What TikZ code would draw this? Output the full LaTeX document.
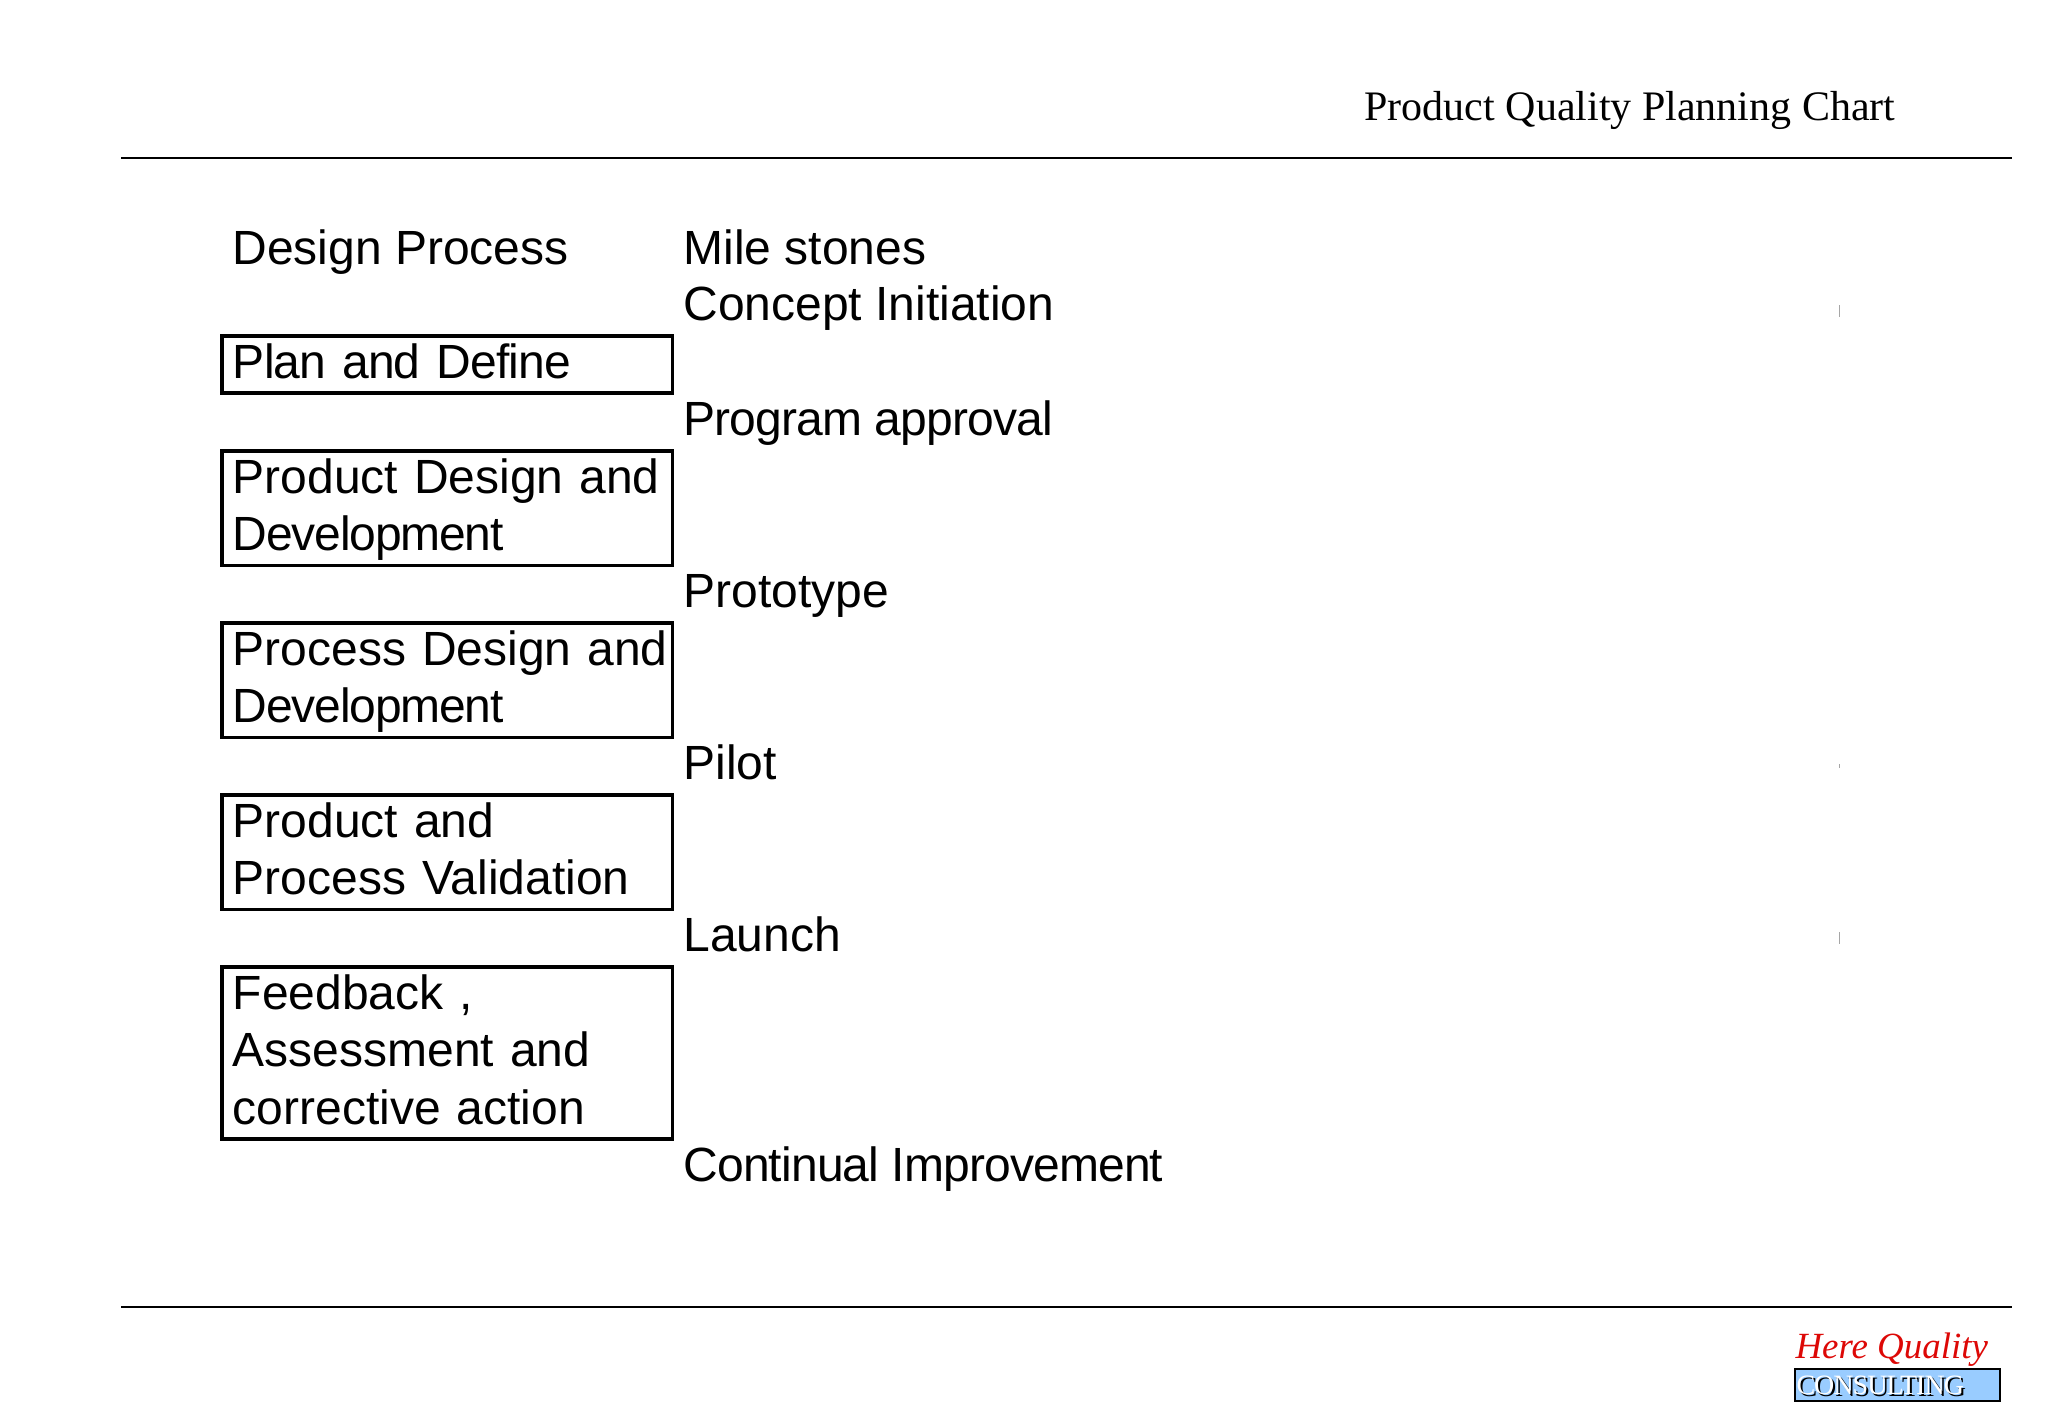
\documentclass[tikz,border=0pt]{standalone}
\usepackage{fontspec}
\setmainfont{Liberation Sans}
\newfontfamily\serifpart{Liberation Serif}
\newfontfamily\tightsans[LetterSpace=-1.8]{Liberation Sans}
\newfontfamily\tightersans[LetterSpace=-2.5]{Liberation Sans}
\newfontfamily\logopart[LetterSpace=-3.5]{Liberation Serif}
\definecolor{herered}{RGB}{221,8,6}
\definecolor{consultblue}{RGB}{153,204,255}
\newcommand{\stagestart}{\hspace*{8.2pt}\rule[-11pt]{0pt}{43pt}}
\tikzset{every picture/.style={line width=0.75pt}}
\tikzset{
  biglabel/.style={anchor=base west,inner sep=0pt,font=\fontsize{36}{43}\selectfont},
  stagebox/.style={draw,line width=2.8pt,anchor=north west,text width=338pt,align=left,
    inner sep=0pt,font=\fontsize{36}{43}\selectfont},
  rulerline/.style={line width=2.2pt},
  faintmark/.style={draw=black!35,line width=0.6pt}
}
\begin{document}
\begin{tikzpicture}[x=0.75pt,y=0.75pt,yscale=-1,xscale=1]
\useasboundingbox (0,0) rectangle (2048,1418);

%Straight Lines
\coordinate (topleft) at (121,158);
\coordinate (topright) at (2012,158);
\coordinate (botleft) at (121,1307);
\coordinate (botright) at (2012,1307);
\draw [rulerline] (topleft) -- (topright);
\draw [rulerline] (botleft) -- (botright);

% Text Node
\node (charttitle) [anchor=base west,inner sep=0pt,font=\serifpart\fontsize{31.5}{36}\selectfont] at (1364,120) {Product Quality Planning Chart};

% Text Node
\node (designhead) [biglabel] at (232,264) {Design Process};
% Text Node
\node (milehead) [biglabel] at (683,264) {Mile stones};

% Boxes
\node (planbox) [stagebox] at (220,334) {\stagestart{\tightsans Plan and Define}};
\node (productbox) [stagebox] at (220,449) {\stagestart Product Design and\\\stagestart{\tightersans Development}};
\node (processbox) [stagebox] at (220,621) {\stagestart Process Design and\\\stagestart{\tightersans Development}};
\node (validbox) [stagebox] at (220,793) {\stagestart Product and\\\stagestart Process Validation};
\node (feedbackbox) [stagebox] at (220,965) {\stagestart Feedback ,\\\stagestart Assessment and\\\stagestart corrective action};

% Text Node
\node (concept) [biglabel] at (683,320.5) {Concept Initiation};
% Text Node
\node (program) [biglabel,font=\tightsans\fontsize{36}{43}\selectfont] at (683,435.5) {Program approval};
% Text Node
\node (prototype) [biglabel] at (683,607.5) {Prototype};
% Text Node
\node (pilot) [biglabel] at (683,779.5) {Pilot};
% Text Node
\node (launch) [biglabel] at (683,951.5) {Launch};
% Text Node
\node (continual) [biglabel,font=\tightsans\fontsize{36}{43}\selectfont] at (683,1181.5) {Continual Improvement};

% Faint marks
\draw [faintmark] (1839,305) -- (1839,317);
\draw [faintmark] (1839,764) -- (1839,768);
\draw [faintmark] (1839,932) -- (1839,944);

% Logo
\node (herequality) [anchor=base west,inner sep=0pt,text=herered,font=\serifpart\itshape\fontsize{27.7}{32}\selectfont] at (1795,1358) {Here Quality};
\node (consultbox) [draw,fill=consultblue,line width=1.5pt,anchor=north west,minimum width=154pt,minimum height=24pt,inner sep=0pt] at (1794,1368) {};
\node (consultshade) [anchor=base west,inner sep=0pt,text=black,font=\logopart\fontsize{21}{24}\selectfont] at (1798,1396) {CONSULTING};
\node (consulttext) [anchor=base west,inner sep=0pt,text=white,font=\logopart\fontsize{21}{24}\selectfont] at (1796,1394.5) {CONSULTING};

\end{tikzpicture}
\end{document}
